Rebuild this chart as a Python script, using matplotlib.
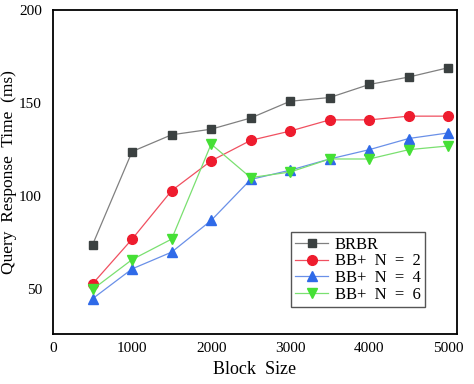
import matplotlib
matplotlib.use('Agg')
import matplotlib.pyplot as plt

block_sizes = [500, 1000, 1500, 2000, 2500, 3000, 3500, 4000, 4500, 5000]
brbr = [74, 124, 133, 136, 142, 151, 153, 160, 164, 169]
bb_n2 = [53, 77, 103, 119, 130, 135, 141, 141, 143, 143]
bb_n4 = [45, 61, 70, 87, 109, 114, 120, 125, 131, 134]
bb_n6 = [50, 66, 77, 128, 110, 113, 120, 120, 125, 127]

plt.rcParams['font.family'] = ['Liberation Serif', 'DejaVu Serif']

fig = plt.figure(figsize=(4.74, 3.84), dpi=100)
ax = fig.add_axes([0.112, 0.130, 0.852, 0.844])

ax.plot(block_sizes, brbr, color='#808080', lw=0.9, marker='s', ms=6,
        mfc='#3b4141', mec='#3b4141', label='BRBR')
ax.plot(block_sizes, bb_n2, color='#f05060', lw=0.9, marker='o', ms=7,
        mfc='#ee1c2e', mec='#ee1c2e', label='BB+  N  =  2')
ax.plot(block_sizes, bb_n4, color='#6a90e8', lw=0.9, marker='^', ms=7,
        mfc='#2f6ae8', mec='#2f6ae8', label='BB+  N  =  4')
ax.plot(block_sizes, bb_n6, color='#7ae070', lw=0.9, marker='v', ms=7,
        mfc='#45e035', mec='#45e035', label='BB+  N  =  6')

ax.set_xlim(0, 5110)
ax.set_ylim(26, 200)
ax.set_xticks([0, 1000, 2000, 3000, 4000, 5000])
ax.set_yticks([50, 100, 150, 200])
ax.tick_params(axis='x', length=0, labelsize=11, pad=6)
ax.tick_params(axis='y', length=0, labelsize=11, pad=8)
for s in ax.spines.values():
    s.set_linewidth(1.3)

ax.set_xlabel('Block  Size', fontsize=13, labelpad=4)
ax.set_ylabel('Query  Response  Time  (ms)', fontsize=12.5)
ax.yaxis.set_label_coords(-0.09, 0.5)

leg = ax.legend(loc='lower right', bbox_to_anchor=(0.921, 0.083), borderaxespad=0,
                fontsize=12, fancybox=False, framealpha=1, edgecolor='#555555',
                handlelength=2.0, borderpad=0.25, labelspacing=0.05, handletextpad=0.4)
leg.get_frame().set_linewidth(1.0)

plt.savefig('out.png', dpi=100, facecolor='white')
